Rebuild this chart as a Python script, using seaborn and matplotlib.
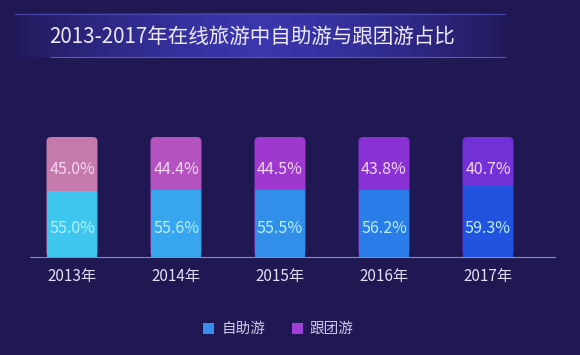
import numpy as np
import pandas as pd
import matplotlib
matplotlib.use('Agg')
import matplotlib.pyplot as plt
import seaborn as sns
from matplotlib.patches import FancyBboxPatch, Rectangle

# data
years = ['2013年', '2014年', '2015年', '2016年', '2017年']
self_guided = [55.0, 55.6, 55.5, 56.2, 59.3]
group_tour = [45.0, 44.4, 44.5, 43.8, 40.7]
series_names = ['自助游', '跟团游']
title = '2013-2017年在线旅游中自助游与跟团游占比'

bottom_colors = ['#3fc6ef', '#38a6ee', '#318fea', '#2a7de8', '#2153e0']
top_colors = ['#c57aab', '#b452bf', '#9f38cf', '#8a31d6', '#7230d6']

sns.set_theme(style='white')
plt.rcParams['font.family'] = ['Noto Sans CJK SC', 'DejaVu Sans']

bg = '#1f1852'
fig = plt.figure(figsize=(5.8, 3.55), dpi=100, facecolor=bg)

# title band background
band = fig.add_axes([0, 0, 1, 1], zorder=0)
band.set_xlim(0, 580)
band.set_ylim(355, 0)
band.axis('off')
grad = np.abs(np.linspace(-1, 1, 300))
grad = np.tile(1 - grad ** 1.5, (10, 1))
cmap = matplotlib.colors.LinearSegmentedColormap.from_list('b', ['#221a5c', '#3a36ac'])
band.imshow(grad, extent=[15, 505, 57, 13], cmap=cmap, aspect='auto')
band.plot([15, 505], [13.5, 13.5], color='#4a48b0', lw=0.8)
band.plot([50, 505], [57, 57], color='#5a58c0', lw=0.8)
band.text(252, 37, title, color='#eeeaff', fontsize=14.8, ha='center', va='center')

ax = fig.add_axes([30 / 580, (355 - 257) / 355, 525 / 580, 120 / 355], zorder=1)
ax.set_facecolor('none')

df = pd.DataFrame({'year': years, 'self': self_guided, 'group': group_tour})
df['total'] = df['self'] + df['group']

sns.barplot(data=df, x='year', y='total', hue='year', palette=top_colors,
            legend=False, width=0.49, saturation=1, linewidth=0, edgecolor='none', ax=ax)
top_patches = list(ax.patches)
sns.barplot(data=df, x='year', y='self', hue='year', palette=bottom_colors,
            legend=False, width=0.49, saturation=1, linewidth=0, edgecolor='none', ax=ax)
bottom_patches = [p for p in ax.patches if p not in top_patches]

ax.set_xlim((30 - 72) / 104, (555 - 72) / 104)
ax.set_ylim(0, 100)

# rounded tops for the upper segments
for p in top_patches:
    x0, y0 = p.get_x(), p.get_y()
    w, h = p.get_width(), p.get_height()
    fc = p.get_facecolor()
    p.set_visible(False)
    rp = FancyBboxPatch((x0, y0), w, h, boxstyle='round,pad=0,rounding_size=0.045',
                        mutation_aspect=86.7, facecolor=fc, edgecolor='none', zorder=1)
    ax.add_patch(rp)
for p in bottom_patches:
    p.set_zorder(2)

for i in range(len(years)):
    ax.text(i, 73, f'{group_tour[i]:.1f}%', color='#f3d6f3', fontsize=11.5,
            ha='center', va='center', zorder=3)
    ax.text(i, 23.5, f'{self_guided[i]:.1f}%', color='#b8f0ff', fontsize=11.5,
            ha='center', va='center', zorder=3)

for s in ['top', 'right', 'left']:
    ax.spines[s].set_visible(False)
ax.spines['bottom'].set_color('#8a86c8')
ax.spines['bottom'].set_linewidth(0.8)
ax.set_yticks([])
ax.set_xlabel('')
ax.set_ylabel('')
ax.tick_params(axis='x', length=0, pad=8, labelsize=11, labelcolor='#e4def6')

# legend
band.add_patch(Rectangle((203, 323), 11, 11, facecolor='#3a8ef0', edgecolor='none'))
band.text(222, 328.5, series_names[0], color='#cfc8ea', fontsize=10.5, va='center')
band.add_patch(Rectangle((292, 323), 11, 11, facecolor='#a040d8', edgecolor='none'))
band.text(310, 328.5, series_names[1], color='#cfc8ea', fontsize=10.5, va='center')

fig.savefig('out.png', dpi=100, facecolor=bg)
